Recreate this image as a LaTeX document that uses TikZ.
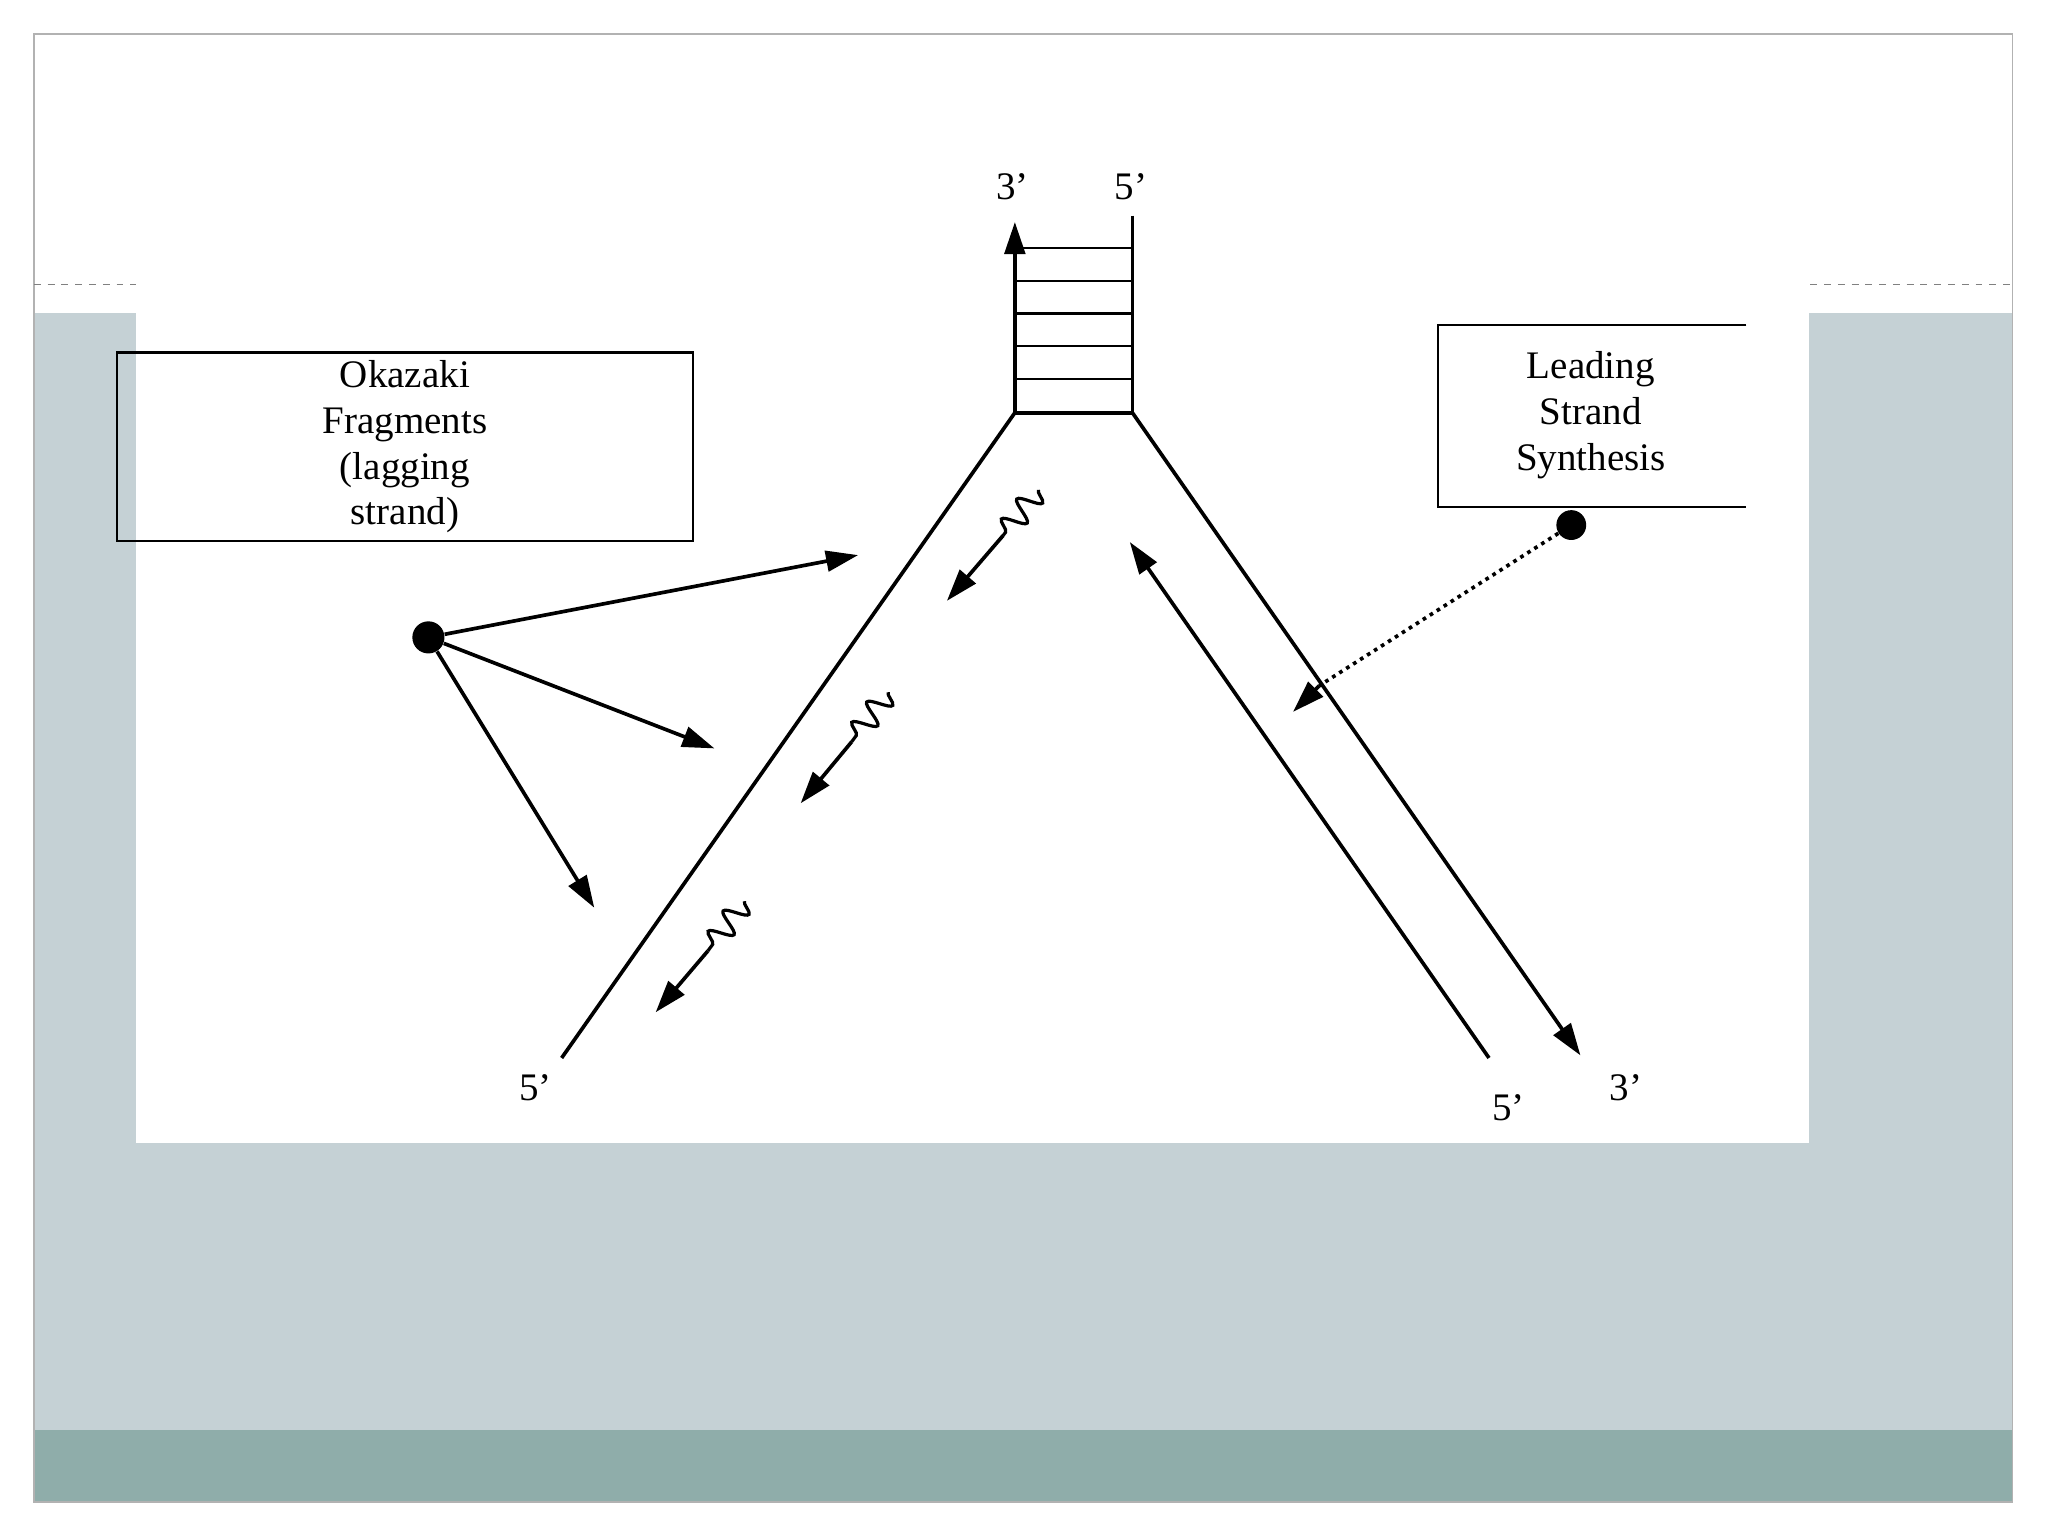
\documentclass[tikz,border=0pt]{standalone}
\usepackage{fontspec}
\setmainfont{Liberation Serif}
\usetikzlibrary{decorations.pathmorphing,arrows.meta}
\begin{document}
\begin{tikzpicture}[x=0.02cm,y=-0.02cm,
  strand/.style={line width=1.6pt},
  arr/.style={line width=1.6pt,-{Triangle[length=14pt,width=9pt]}},
  lbl/.style={font=\fontsize{17}{21}\selectfont},
  boxtxt/.style={font=\fontsize{17}{20}\selectfont,align=center}]
\useasboundingbox (0,0) rectangle (1568,1176);
\fill[white] (0,0) rectangle (1568,1176);
\fill[fill={rgb,255:red,197;green,209;blue,213}] (26,240) rectangle (1541,1095);
\fill[fill={rgb,255:red,143;green,173;blue,170}] (26,1095) rectangle (1541,1150);
\draw[gray!60,line width=0.6pt] (26,26) rectangle (1541,1150);
\draw[gray,dashed,line width=0.5pt] (26,218) -- (104,218) (1386,218) -- (1541,218);
\fill[white] (104,215) rectangle (1385,875);
% ladder
\coordinate (lt) at (777,170); \coordinate (lb) at (777,316);
\coordinate (rt) at (867,165); \coordinate (rb) at (867,316);
\draw[arr] (lb) -- (lt);
\draw[strand] (rt) -- (rb);
\foreach \y in {190,215,240,265,290}{\draw[line width=0.9pt] (777,\y) -- (867,\y);}
\draw[strand] (lb) -- (rb);
% arms
\coordinate (le) at (430,810);
\coordinate (re) at (1210,808);
\draw[strand] (lb) -- (le);
\draw[arr] (rb) -- (re);
\coordinate (is) at (1140,810); \coordinate (ie) at (865,415);
\draw[arr] (is) -- (ie);
% labels
\node[lbl] (t3) at (775,143) {3’};
\node[lbl] (t5) at (866,143) {5’};
\node[lbl] (b5l) at (410,833) {5’};
\node[lbl] (b5r) at (1155,848) {5’};
\node[lbl] (b3r) at (1245,833) {3’};
% boxes
\node[draw,line width=1pt,boxtxt,minimum width=251\pgflinewidth,text width=230*0.02cm] (ok) at (310,342) {Okazaki\\Fragments\\(lagging\\strand)};
\draw[line width=1pt] (1337,249) -- (1101,249) -- (1101,388) -- (1337,388);
\node[boxtxt] (ls) at (1218,318) {Leading\\Strand\\Synthesis};
% okazaki pointers
\node[circle,fill,inner sep=0pt,minimum size=14pt] (d1) at (328,488) {};
\coordinate (p1) at (657,425); \coordinate (p2) at (547,573); \coordinate (p3) at (455,695);
\draw[arr] (d1) -- (p1);
\draw[arr] (d1) -- (p2);
\draw[arr] (d1) -- (p3);
% leading pointer
\node[circle,fill,inner sep=0pt,minimum size=13pt] (d2) at (1203,402) {};
\coordinate (lp) at (1010,525); \coordinate (lpt) at (990,545);
\draw[dotted,line width=1.6pt] (d2) -- (lp);
\draw[arr] (lp) -- (lpt);
% fragments
\foreach \ax/\ay/\mx/\my/\bx/\by in {795/375/768/410/725/460, 680/530/652/568/613/615, 570/690/542/728/502/775}{
  \draw[line width=1.4pt,decorate,decoration={snake,amplitude=5pt,segment length=11pt}] (\ax,\ay) -- (\mx,\my);
  \draw[arr] (\mx,\my) -- (\bx,\by);
}
\end{tikzpicture}
\end{document}
